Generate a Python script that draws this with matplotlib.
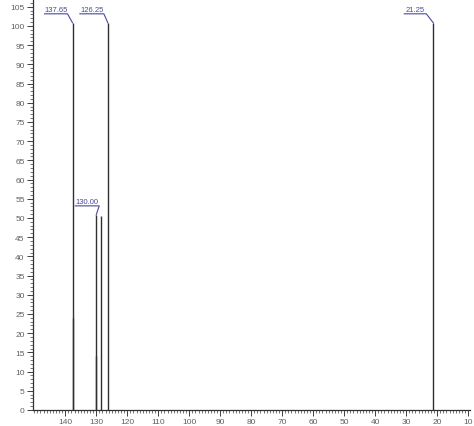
import numpy as np
import matplotlib.pyplot as plt
import matplotlib.transforms as mtransforms
from matplotlib.ticker import MultipleLocator

# Pics du spectre (ppm, intensité)
shifts = [137.65, 137.65, 130.00, 130.05, 128.40, 126.25, 21.25]
heights = [100.8, 24.0, 50.8, 14.0, 50.5, 100.8, 100.8]

# Étiquettes : position du pic, hauteur
labels = ["137.65", "126.25", "130.00", "21.25"]
label_x = [137.65, 126.25, 130.00, 21.25]
label_y = [100.8, 100.8, 50.8, 100.8]
# (début soulignement, fin soulignement, montée) en pixels
label_geom = [(-28, -5, 9), (-28, -4, 9), (-21, 3, 9), (-29, -7, 9)]

fig = plt.figure(figsize=(4.74, 4.27), dpi=100)
ax = fig.add_axes([0.0696, 0.0375, 0.922, 0.9625])

ax.vlines(shifts, 0, heights, color='#303030', lw=1.0)

ax.set_xlim(150.4, 9.4)
ax.set_ylim(0, 107)
ax.xaxis.set_minor_locator(MultipleLocator(1))
ax.yaxis.set_minor_locator(MultipleLocator(1))
ax.set_yticks(np.arange(0, 106, 5))
ax.set_xticks(np.arange(140, 9, -10))

lab_col = '#4a4aa0'
for txt, px, py, (u0, u1, up) in zip(labels, label_x, label_y, label_geom):
    x0, y0 = ax.transData.transform((px, py))
    xs = [x0, x0 + u1, x0 + u0]
    ys = [y0, y0 + up, y0 + up]
    ax.plot(xs, ys, color=lab_col, lw=0.8, transform=mtransforms.IdentityTransform(), clip_on=False)
    ax.text(px, py, txt,
            transform=mtransforms.offset_copy(ax.transData, fig, x=(u0 + u1) / 2, y=up + 1, units='dots'),
            ha='center', va='bottom', fontsize=5.5, color=lab_col, family='Liberation Sans')

for s in ['top', 'right']:
    ax.spines[s].set_visible(False)
for s in ['left', 'bottom']:
    ax.spines[s].set_color('#303030')
    ax.spines[s].set_linewidth(0.9)

ax.tick_params(which='major', length=4, width=0.7, color='#404040', labelsize=6,
               labelcolor='#606060', pad=2)
ax.tick_params(which='minor', length=2, width=0.5, color='#404040')
for lab in ax.get_xticklabels() + ax.get_yticklabels():
    lab.set_family('Liberation Sans')

plt.savefig('out.png', dpi=100)
